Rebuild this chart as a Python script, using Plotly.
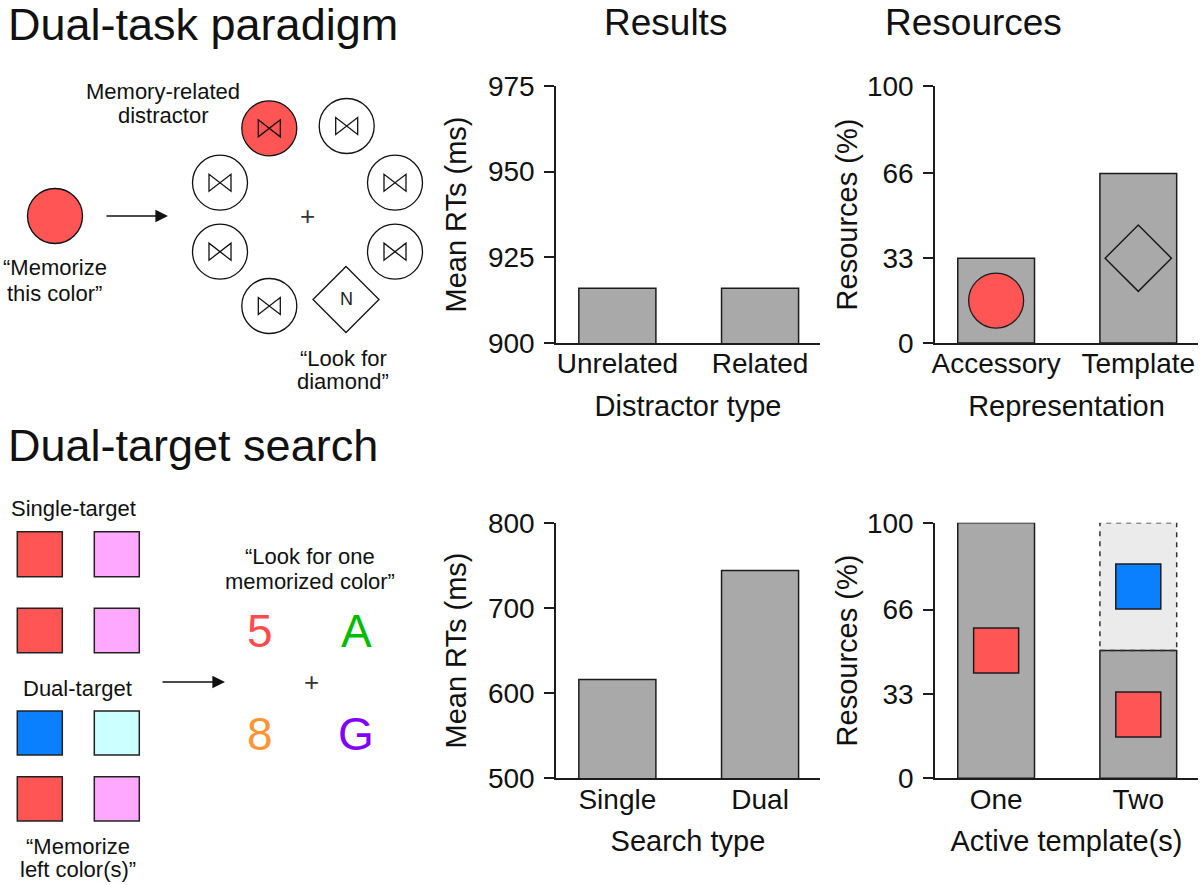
import plotly.graph_objects as go

W, H = 1200, 885
FONT = "Liberation Sans, Arial, Helvetica, sans-serif"

# ---------------- data ----------------
distractor_types = ["Unrelated", "Related"]
distractor_rt = [916, 916]
rt_ticks_top = [900, 925, 950, 975]

representations = ["Accessory", "Template"]
representation_resources = [33, 66]
resource_ticks = [0, 33, 66, 100]
accessory_icon_y = [16.5]
template_icon_y = [33]

search_types = ["Single", "Dual"]
search_rt = [616, 744]
rt_ticks_bottom = [500, 600, 700, 800]

active_templates = ["One", "Two"]
template_resources = [100, 50]
shared_resources = [0, 50]
red_template_y = [50, 25]
blue_template_y = [75]

# ---------------- style ----------------
BAR_W = 0.54
BAR_FILL = "#a9a9a9"
EDGE = "#1c1c1c"
RED = "#ff5555"
PINK = "#ffa8ff"
BLUE = "#0a80ff"
CYAN = "#ccffff"
LIGHT = "#ebebeb"
TICK_FS = 28
TITLE_FS = 29

fig = go.Figure()


def idx(cats):
    return list(range(len(cats)))


def add_bars(cats, vals, xa, ya):
    fig.add_trace(go.Bar(
        x=idx(cats), y=vals, width=BAR_W, xaxis=xa, yaxis=ya,
        marker=dict(color=BAR_FILL, line=dict(color=EDGE, width=1.5)),
        showlegend=False, hoverinfo="skip"))


# Top middle: results of dual-task paradigm
add_bars(distractor_types, distractor_rt, "x", "y")

# Top right: resources of representations
add_bars(representations, representation_resources, "x2", "y2")
fig.add_trace(go.Scatter(
    x=[representations.index("Accessory")] * len(accessory_icon_y), y=accessory_icon_y,
    xaxis="x2", yaxis="y2", mode="markers", showlegend=False, hoverinfo="skip",
    marker=dict(symbol="circle", size=55, color=RED, line=dict(color=EDGE, width=1.3))))
fig.add_trace(go.Scatter(
    x=[representations.index("Template")] * len(template_icon_y), y=template_icon_y,
    xaxis="x2", yaxis="y2", mode="markers", showlegend=False, hoverinfo="skip",
    marker=dict(symbol="diamond", size=51, color=BAR_FILL, line=dict(color=EDGE, width=1.5))))

# Bottom middle: search results
add_bars(search_types, search_rt, "x3", "y3")

# Bottom right: resources for active templates
fig.add_trace(go.Bar(
    x=idx(active_templates), y=shared_resources, base=template_resources, width=BAR_W,
    xaxis="x4", yaxis="y4", marker=dict(color=LIGHT, line=dict(width=0)),
    showlegend=False, hoverinfo="skip"))
add_bars(active_templates, template_resources, "x4", "y4")
fig.add_trace(go.Scatter(
    x=idx(active_templates), y=red_template_y, xaxis="x4", yaxis="y4", mode="markers",
    showlegend=False, hoverinfo="skip",
    marker=dict(symbol="square", size=45, color=RED, line=dict(color=EDGE, width=1.5))))
fig.add_trace(go.Scatter(
    x=[active_templates.index("Two")] * len(blue_template_y), y=blue_template_y,
    xaxis="x4", yaxis="y4", mode="markers", showlegend=False, hoverinfo="skip",
    marker=dict(symbol="square", size=45, color=BLUE, line=dict(color=EDGE, width=1.5))))

shapes = []
# dashed outline of shared resources
for i, (b, s) in enumerate(zip(template_resources, shared_resources)):
    if s > 0:
        shapes.append(dict(type="rect", xref="x4", yref="y4",
                           x0=i - BAR_W / 2, x1=i + BAR_W / 2, y0=b, y1=b + s,
                           line=dict(color="#333333", width=1.5, dash="5px,5px"),
                           fillcolor="rgba(0,0,0,0)", layer="above"))


# ---------------- axes ----------------
def px(x):
    return x / W


def py(y):
    return 1 - y / H


def xaxis(cats, dom, anchor, title):
    return dict(domain=dom, anchor=anchor, range=[-0.43, 1.42], automargin=False,
                tickmode="array", tickvals=idx(cats), ticktext=cats,
                ticks="", ticklen=0, ticklabelstandoff=-5,
                showline=True, linecolor=EDGE, linewidth=1.5,
                showgrid=False, zeroline=False, fixedrange=True,
                tickfont=dict(size=TICK_FS, color="#111"),
                title=dict(text=title, font=dict(size=TITLE_FS, color="#111"), standoff=17))


def yaxis(ticks, rng, dom, anchor, title, standoff):
    return dict(domain=dom, anchor=anchor, range=rng, automargin=False,
                tickmode="array", tickvals=ticks,
                ticks="outside", ticklen=10, tickwidth=1.5, tickcolor=EDGE,
                showline=True, linecolor=EDGE, linewidth=1.5,
                showgrid=False, zeroline=False, fixedrange=True,
                ticklabelstandoff=4,
                tickfont=dict(size=TICK_FS, color="#111"),
                title=dict(text=title, font=dict(size=TITLE_FS, color="#111"), standoff=standoff))


MID_X = [px(556), px(820)]
RIGHT_X = [px(935), px(1198)]
TOP_Y = [py(343), py(86)]
BOT_Y = [py(778.3), py(522.7)]

layout_axes = dict(
    xaxis=xaxis(distractor_types, MID_X, "y", "Distractor type"),
    yaxis=yaxis(rt_ticks_top, [900, 975], TOP_Y, "x", "Mean RTs (ms)", 13),
    xaxis2=xaxis(representations, RIGHT_X, "y2", "Representation"),
    yaxis2=yaxis(resource_ticks, [0, 100], TOP_Y, "x2", "Resources (%)", 1),
    xaxis3=xaxis(search_types, MID_X, "y3", "Search type"),
    yaxis3=yaxis(rt_ticks_bottom, [500, 800], BOT_Y, "x3", "Mean RTs (ms)", 13),
    xaxis4=xaxis(active_templates, RIGHT_X, "y4", "Active template(s)"),
    yaxis4=yaxis(resource_ticks, [0, 100], BOT_Y, "x4", "Resources (%)", 1),
)

# ---------------- diagrams ----------------
ann = []


def text(x, y, s, size=22, color="#111", xanchor="center"):
    ann.append(dict(x=px(x), y=py(y), xref="paper", yref="paper", text=s,
                    showarrow=False, xanchor=xanchor, yanchor="middle",
                    font=dict(size=size, color=color, family=FONT)))


def arrow(x0, x1, y):
    ann.append(dict(x=px(x1), y=py(y), ax=-(x1 - x0), ay=0, xref="paper", yref="paper",
                    axref="pixel", ayref="pixel", text="", showarrow=True,
                    arrowhead=2, arrowsize=1.8, arrowwidth=1.4, arrowcolor="#111"))


def circle(cx, cy, r, fill):
    shapes.append(dict(type="circle", xref="paper", yref="paper",
                       x0=px(cx - r), x1=px(cx + r), y0=py(cy + r), y1=py(cy - r),
                       fillcolor=fill, line=dict(color="#111", width=1.3)))


def path(points, close=True, fill="rgba(0,0,0,0)", width=1.3):
    d = "M " + " L ".join(f"{px(x):.5f},{py(y):.5f}" for x, y in points)
    if close:
        d += " Z"
    shapes.append(dict(type="path", xref="paper", yref="paper", path=d,
                       fillcolor=fill, line=dict(color="#111", width=width)))


def bowtie(cx, cy, w=11, h=8.5):
    path([(cx - w, cy - h), (cx - w, cy + h), (cx + w, cy - h), (cx + w, cy + h)], close=True)


def square(x0, y0, x1, y1, fill):
    shapes.append(dict(type="rect", xref="paper", yref="paper",
                       x0=px(x0), x1=px(x1), y0=py(y1), y1=py(y0),
                       fillcolor=fill, line=dict(color="#222", width=1.5)))


# panel titles
text(6, 24, "Dual-task paradigm", size=45, xanchor="left")
text(665, 22, "Results", size=37)
text(973, 22, "Resources", size=37)
text(6, 445, "Dual-target search", size=45, xanchor="left")

# top-left: dual-task paradigm
circle(55, 216, 27.5, RED)
text(55, 268, "“Memorize")
text(55, 293, "this color”")
arrow(105, 168, 216)
R = 27.5
ring = [(269.3, 128.3, RED), (346.7, 126, "white"), (220, 182.7, "white"), (395, 182.7, "white"),
        (220, 251.7, "white"), (395, 251.7, "white"), (269.3, 306, "white")]
for cx, cy, f in ring:
    circle(cx, cy, R, f)
    bowtie(cx, cy)
dx, dy = 346, 299.5
path([(dx, dy - 33), (dx + 33, dy), (dx, dy + 33), (dx - 33, dy)], fill="white")
text(dx, dy, "N", size=18, color="#222")
text(307, 216, "+", size=26, color="#333")
text(163, 92, "Memory-related")
text(163, 115, "distractor")
text(343, 358, "“Look for")
text(343, 382, "diamond”")

# bottom-left: dual-target search
text(73, 508, "Single-target")
text(77, 688, "Dual-target")
text(78, 846, "“Memorize")
text(78, 869, "left color(s)”")
cols = [(17.3, 62.3), (94.3, 139.3)]
rows = [(531.7, 576.7), (608.3, 652.7), (711, 755), (776.7, 821)]
fills = [(RED, PINK), (RED, PINK), (BLUE, CYAN), (RED, PINK)]
for (y0, y1), fr in zip(rows, fills):
    for (x0, x1), f in zip(cols, fr):
        square(x0, y0, x1, y1, f)
arrow(161, 225, 682)
text(310, 556, "“Look for one")
text(310, 581, "memorized color”")
text(260, 631, "5", size=46, color="#ff4b4b")
text(356, 631, "A", size=46, color="#00bb00")
text(311, 682, "+", size=26, color="#333")
text(260, 734, "8", size=46, color="#ff9433")
text(356, 734, "G", size=46, color="#8000ff")

fig.update_layout(
    width=W, height=H, margin=dict(l=0, r=0, t=0, b=0),
    paper_bgcolor="white", plot_bgcolor="white",
    font=dict(family=FONT, color="#111"),
    barmode="overlay", showlegend=False,
    shapes=shapes, annotations=ann,
    **layout_axes,
)

fig.write_html(
    "out.html",
    config={"displayModeBar": False},
    post_script="document.body.style.margin='0px';document.body.style.overflow='hidden';",
)
